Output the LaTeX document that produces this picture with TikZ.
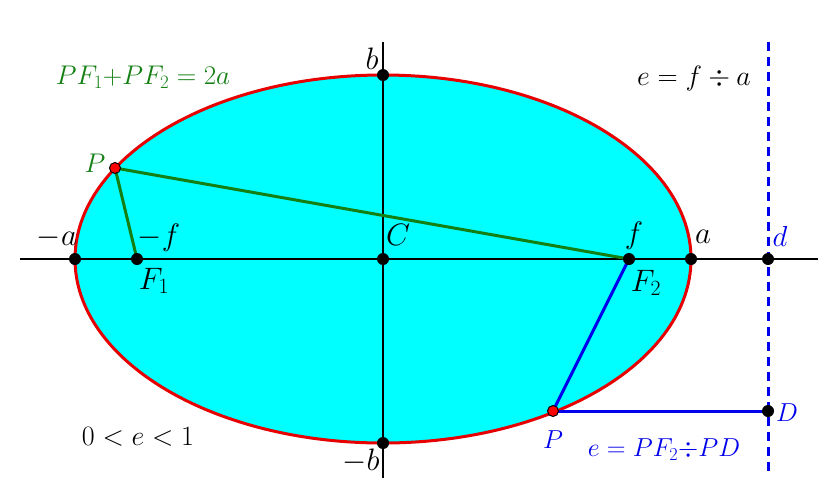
\documentclass[tikz,border=0pt]{standalone}
\usepackage{fix-cm}
\usepackage{amsmath}
\begin{document}
\begin{tikzpicture}[x=1pt,y=-1pt,
  dot/.style={circle,fill=black,inner sep=0pt,minimum size=12pt},
  reddot/.style={circle,fill=red,draw=black,line width=1pt,inner sep=0pt,minimum size=11pt},
  lbl/.style={font=\fontsize{28}{30}\selectfont,inner sep=0pt},
  slbl/.style={font=\fontsize{31}{33}\selectfont,inner sep=0pt},
  glbl/.style={font=\fontsize{27}{29}\selectfont,inner sep=0pt,text=ggreen},
  blbl/.style={font=\fontsize{26}{28}\selectfont,inner sep=0pt,text=bblue},
  axis/.style={black,line width=1.8pt},
  gline/.style={ggreen,line width=3pt},
  bline/.style={bblue,line width=3pt},
  directrix/.style={bblue,line width=3pt,dash pattern=on 9pt off 6pt}]
\definecolor{ggreen}{RGB}{20,128,20}
\definecolor{bblue}{RGB}{0,0,235}
\definecolor{ccyan}{RGB}{0,255,255}
\definecolor{rred}{RGB}{230,0,0}
\useasboundingbox[fill=white] (0,0) rectangle (840,499);
% ellipse
\draw[rred,line width=3pt,fill=ccyan] (383,259) ellipse [x radius=308,y radius=184];
% axes ends
\coordinate (xl) at (20,259);
\coordinate (xr) at (818,259);
\coordinate (yt) at (383,42);
\coordinate (yb) at (383,478);
\coordinate (dt) at (768,42);
\coordinate (db) at (768,472);
\draw[axis] (xl) -- (xr);
\draw[axis] (yt) -- (yb);
\draw[directrix] (dt) -- (db);
% points
\coordinate (P1c) at (115,168);
\coordinate (P2c) at (553,411);
\coordinate (F1c) at (137,259);
\coordinate (F2c) at (629,259);
\coordinate (Dc) at (768,411);
\draw[gline] (P1c) -- (F1c);
\draw[gline] (P1c) -- (F2c);
\draw[bline] (P2c) -- (F2c);
\draw[bline] (P2c) -- (Dc);
\node[dot] (C) at (383,259) {};
\node[dot] (A) at (691,259) {};
\node[dot] (Am) at (75,259) {};
\node[dot] (B) at (383,75) {};
\node[dot] (Bm) at (383,443) {};
\node[dot] (F1) at (F1c) {};
\node[dot] (F2) at (F2c) {};
\node[dot] (Dd) at (768,259) {};
\node[dot] (D) at (Dc) {};
\node[reddot] (P1) at (P1c) {};
\node[reddot] (P2) at (P2c) {};
% labels
\node[glbl] (t1) at (143,77) {$PF_1{+}PF_2 = 2a$};
\node[lbl] (t2) at (694,78) {$e = f \div a$};
\node[slbl] (lb) at (372,59) {$b$};
\node[slbl] (lbm) at (361,461) {$-b$};
\node[glbl] (lP1) at (95,163) {$P$};
\node[slbl] (lam) at (57,238) {$-a$};
\node[slbl] (lfm) at (159,238) {$-f$};
\node[slbl] (lF1) at (154,281) {$F_1$};
\node[slbl] (lC) at (398,235) {$C$};
\node[slbl] (lf) at (634,236) {$f$};
\node[slbl] (la) at (703,237) {$a$};
\node[blbl,font=\fontsize{29}{31}\selectfont] (ld) at (780,236) {$d$};
\node[slbl] (lF2) at (646,283) {$F_2$};
\node[blbl] (lP2) at (553,440) {$P$};
\node[blbl] (lD) at (787,413) {$D$};
\node[blbl] (t3) at (664,450) {$e = PF_2{\div}PD$};
\node[lbl] (t4) at (138,437) {$0 < e < 1$};
\end{tikzpicture}
\end{document}
